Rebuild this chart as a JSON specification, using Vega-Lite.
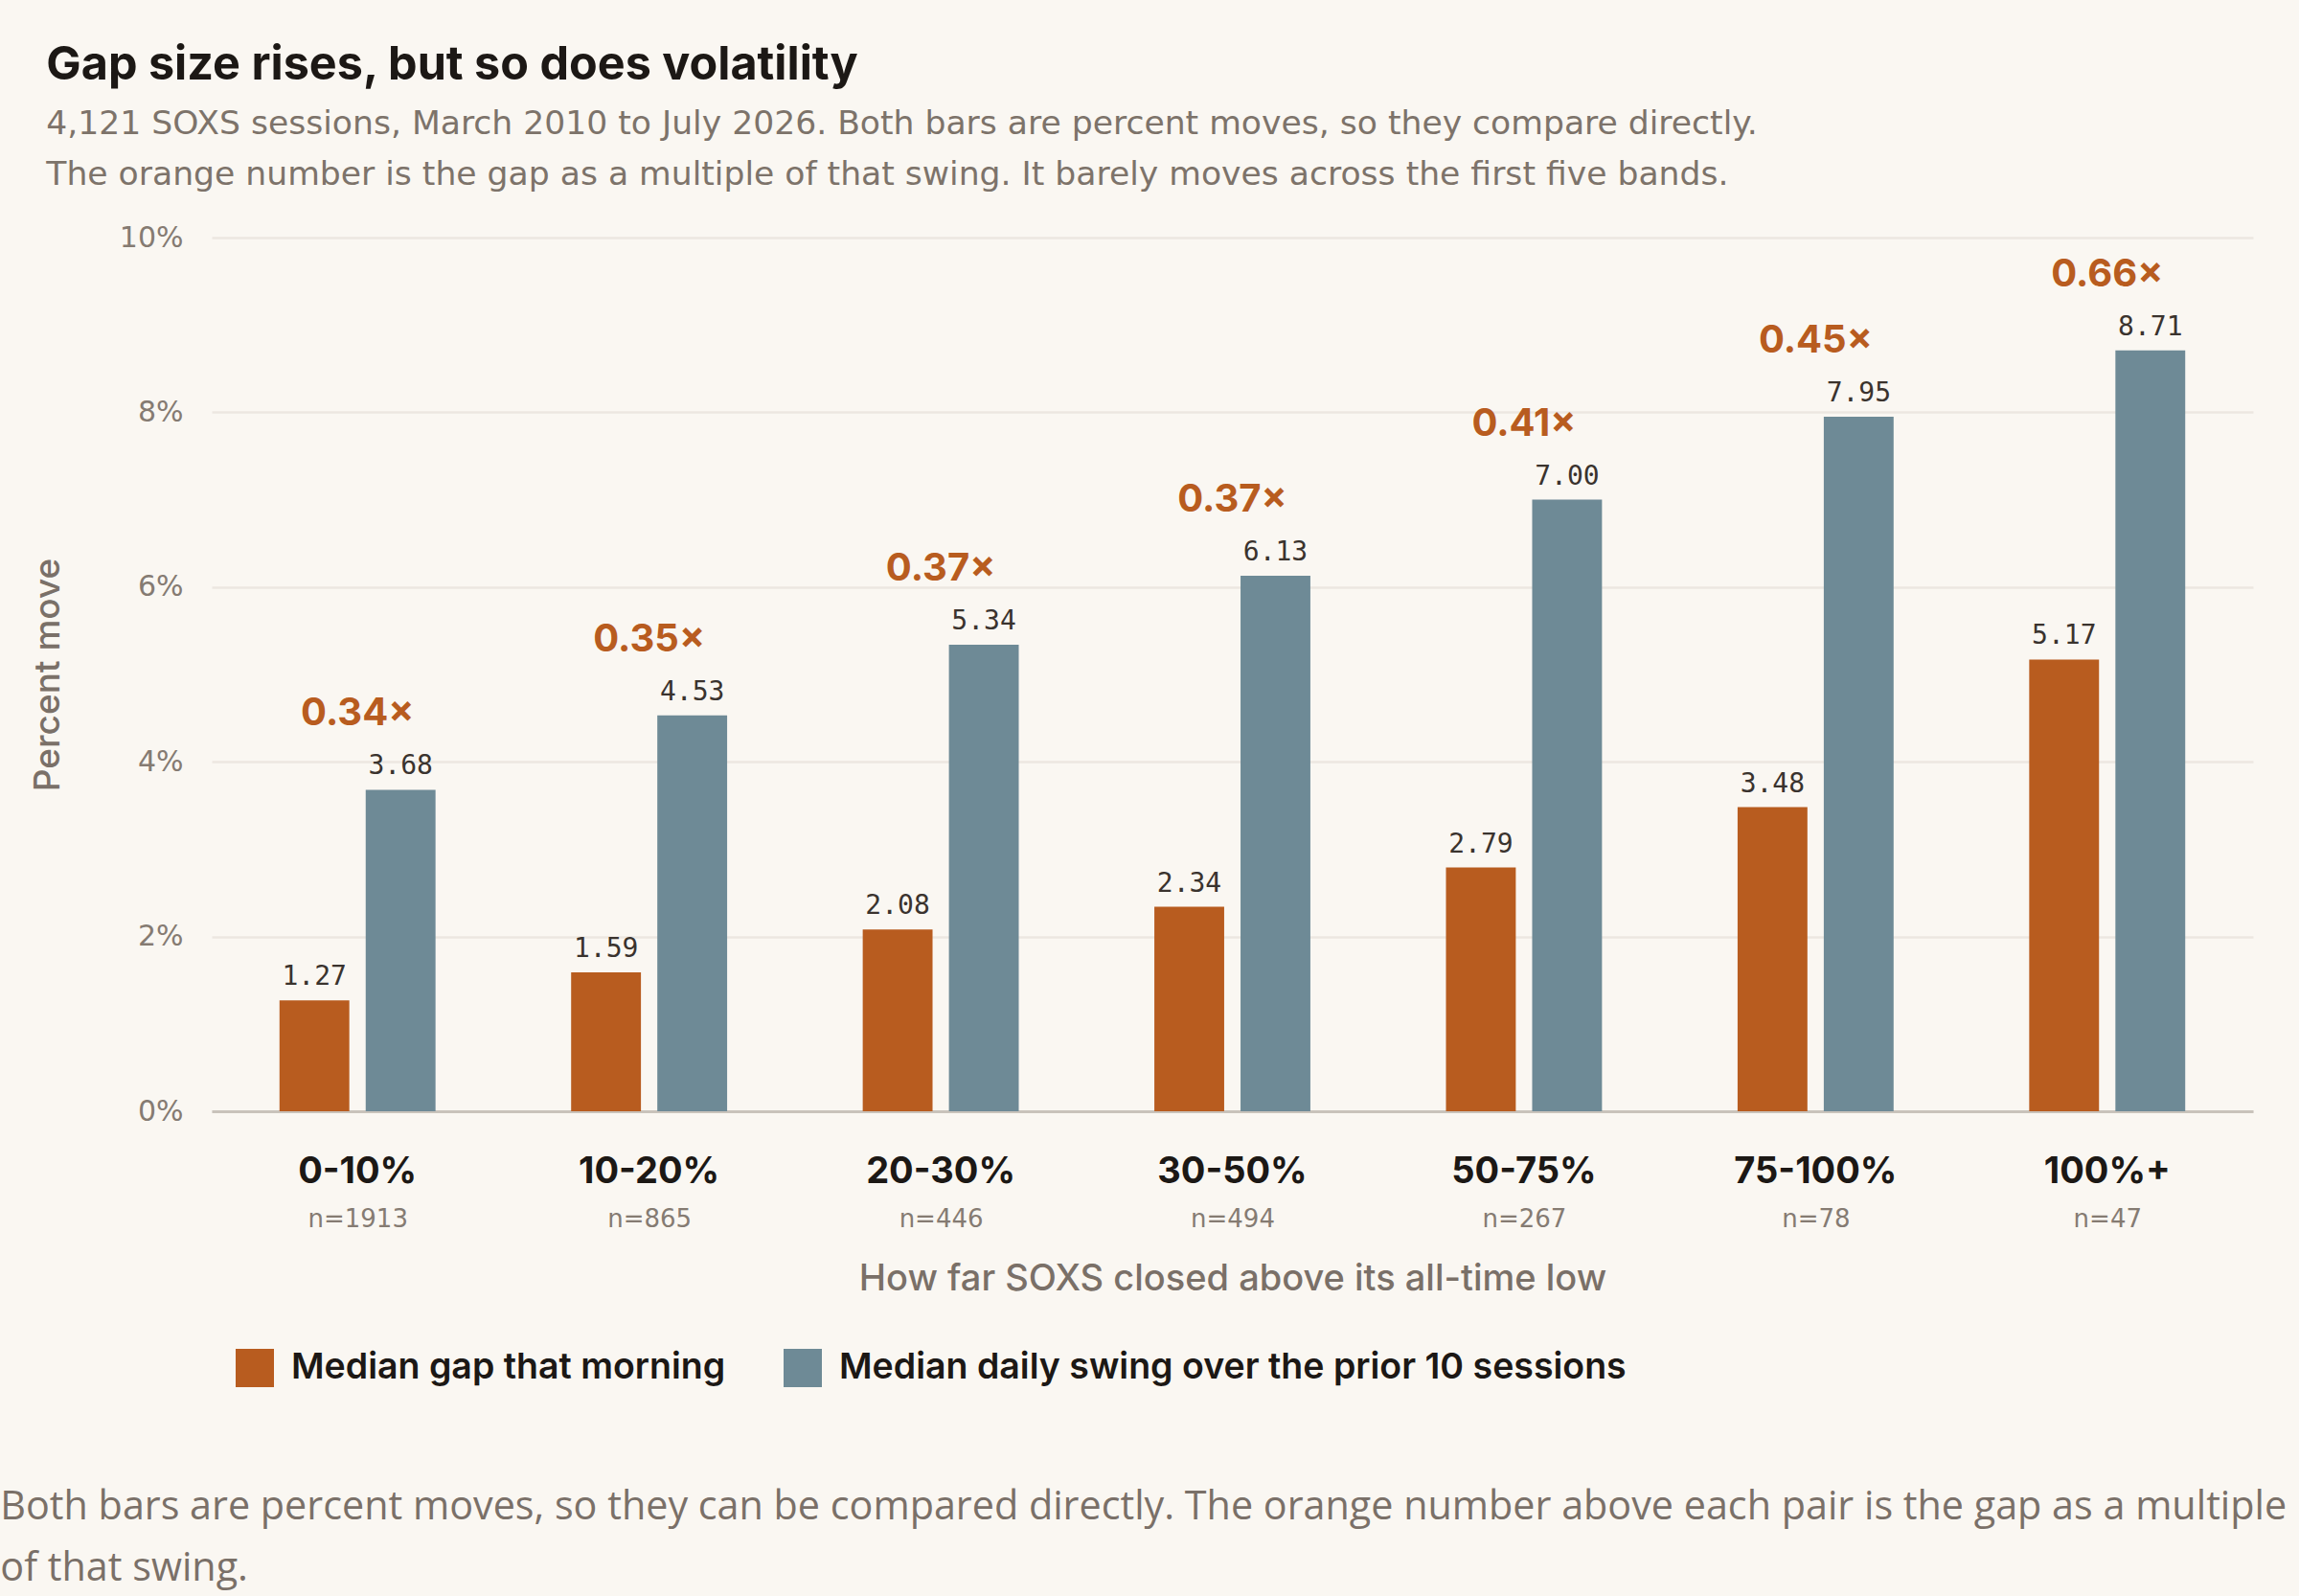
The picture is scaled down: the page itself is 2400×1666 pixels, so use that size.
{
  "$schema": "https://vega.github.io/schema/vega-lite/v6.json",
  "background": "#FAF7F2",
  "padding": {"left": 0, "top": 43, "right": 47, "bottom": 10},
  "title": {
    "text": "Gap size rises, but so does volatility",
    "subtitle": [
      "4,121 SOXS sessions, March 2010 to July 2026. Both bars are percent moves, so they compare directly.",
      "The orange number is the gap as a multiple of that swing. It barely moves across the first five bands."
    ],
    "anchor": "start",
    "frame": "bounds",
    "dx": 48,
    "font": "Inter",
    "fontSize": 48.5,
    "fontWeight": 700,
    "color": "#1C1815",
    "subtitleFont": "DejaVu Sans",
    "subtitleFontSize": 34.6,
    "subtitleColor": "#7D736A",
    "subtitleLineHeight": 53,
    "subtitlePadding": 20,
    "offset": 32
  },
  "data": {
    "values": [
      {"band": "0-10%", "n": 1913, "series": "Median gap that morning", "value": 1.27},
      {"band": "0-10%", "n": 1913, "series": "Median daily swing over the prior 10 sessions", "value": 3.68, "ratio": "0.34×"},
      {"band": "10-20%", "n": 865, "series": "Median gap that morning", "value": 1.59},
      {"band": "10-20%", "n": 865, "series": "Median daily swing over the prior 10 sessions", "value": 4.53, "ratio": "0.35×"},
      {"band": "20-30%", "n": 446, "series": "Median gap that morning", "value": 2.08},
      {"band": "20-30%", "n": 446, "series": "Median daily swing over the prior 10 sessions", "value": 5.34, "ratio": "0.37×"},
      {"band": "30-50%", "n": 494, "series": "Median gap that morning", "value": 2.34},
      {"band": "30-50%", "n": 494, "series": "Median daily swing over the prior 10 sessions", "value": 6.13, "ratio": "0.37×"},
      {"band": "50-75%", "n": 267, "series": "Median gap that morning", "value": 2.79},
      {"band": "50-75%", "n": 267, "series": "Median daily swing over the prior 10 sessions", "value": 7.00, "ratio": "0.41×"},
      {"band": "75-100%", "n": 78, "series": "Median gap that morning", "value": 3.48},
      {"band": "75-100%", "n": 78, "series": "Median daily swing over the prior 10 sessions", "value": 7.95, "ratio": "0.45×"},
      {"band": "100%+", "n": 47, "series": "Median gap that morning", "value": 5.17},
      {"band": "100%+", "n": 47, "series": "Median daily swing over the prior 10 sessions", "value": 8.71, "ratio": "0.66×"}
    ]
  },
  "vconcat": [
    {
      "width": 2131,
      "height": 912,
      "title": {
        "text": [
          "Both bars are percent moves, so they can be compared directly. The orange number above each pair is the gap as a multiple",
          "of that swing."
        ],
        "orient": "bottom",
        "anchor": "start",
        "frame": "bounds",
        "dx": -31,
        "font": "Open Sans",
        "fontSize": 41.3,
        "fontWeight": 400,
        "color": "#7A7068",
        "lineHeight": 64,
        "offset": 199
      },
      "resolve": {"scale": {"x": "independent"}},
      "layer": [
        {
          "encoding": {
            "x": {
              "field": "band",
              "type": "nominal",
              "sort": null,
              "scale": {"paddingInner": 0.465, "paddingOuter": 0.2325},
              "axis": {
                "title": null,
                "labelFont": "Inter",
                "labelFontSize": 38,
                "labelFontWeight": 700,
                "labelColor": "#1C1815",
                "labelPadding": 44,
                "labelAngle": 0,
                "domain": true,
                "domainColor": "#C9C3BB",
                "domainWidth": 3,
                "ticks": false,
                "grid": false
              }
            },
            "xOffset": {
              "field": "series",
              "type": "nominal",
              "sort": ["Median gap that morning", "Median daily swing over the prior 10 sessions"],
              "scale": {"paddingInner": 0.19, "paddingOuter": 0}
            },
            "y": {
              "field": "value",
              "type": "quantitative",
              "scale": {"domain": [0, 10], "nice": false},
              "axis": {
                "title": "Percent move",
                "values": [0, 2, 4, 6, 8, 10],
                "labelExpr": "datum.value + '%'",
                "labelFont": "DejaVu Sans",
                "labelFontSize": 30,
                "labelColor": "#857B72",
                "labelPadding": 30,
                "domain": false,
                "ticks": false,
                "grid": true,
                "gridColor": "#ECE7E1",
                "gridWidth": 2.5,
                "titleFont": "Inter",
                "titleFontSize": 37,
                "titleFontWeight": 500,
                "titleColor": "#7A7068",
                "titlePadding": 55
              }
            }
          },
          "layer": [
            {
              "mark": {"type": "bar"},
              "encoding": {
                "color": {
                  "field": "series",
                  "type": "nominal",
                  "scale": {
                    "domain": ["Median gap that morning", "Median daily swing over the prior 10 sessions"],
                    "range": ["#B85C1F", "#6E8A96"]
                  },
                  "legend": {
                    "orient": "none",
                    "legendX": 25,
                    "legendY": 1160,
                    "direction": "horizontal",
                    "title": null,
                    "symbolType": "square",
                    "symbolSize": 1600,
                    "symbolStrokeWidth": 0,
                    "symbolOpacity": 1,
                    "labelFont": "Inter",
                    "labelFontSize": 37.5,
                    "labelFontWeight": 600,
                    "labelColor": "#1C1815",
                    "labelOffset": 18,
                    "labelLimit": 0,
                    "columnPadding": 60,
                    "padding": 0
                  }
                }
              }
            },
            {
              "mark": {"type": "text", "baseline": "alphabetic", "dy": -16, "font": "DejaVu Sans Mono", "fontSize": 28, "color": "#3A332E"},
              "encoding": {
                "text": {"field": "value", "type": "quantitative", "format": ".2f"}
              }
            }
          ]
        },
        {
          "transform": [{"filter": "datum.series == 'Median daily swing over the prior 10 sessions'"}],
          "mark": {"type": "text", "baseline": "alphabetic", "dy": -67, "font": "Inter", "fontSize": 40, "fontWeight": 700, "color": "#B85C1F"},
          "encoding": {
            "x": {
              "field": "n",
              "type": "ordinal",
              "sort": null,
              "axis": {
                "orient": "bottom",
                "title": "How far SOXS closed above its all-time low",
                "titleFont": "Inter",
                "titleFontSize": 38,
                "titleFontWeight": 500,
                "titleColor": "#7A7068",
                "titlePadding": 31,
                "labelExpr": "'n=' + datum.label",
                "labelFont": "DejaVu Sans",
                "labelFontSize": 26,
                "labelColor": "#857B72",
                "labelPadding": 99,
                "labelAngle": 0,
                "domain": false,
                "ticks": false,
                "grid": false
              }
            },
            "y": {"field": "value", "type": "quantitative"},
            "text": {"field": "ratio", "type": "nominal"}
          }
        }
      ]
    }
  ],
  "config": {
    "font": "Inter",
    "view": {"stroke": null}
  }
}
